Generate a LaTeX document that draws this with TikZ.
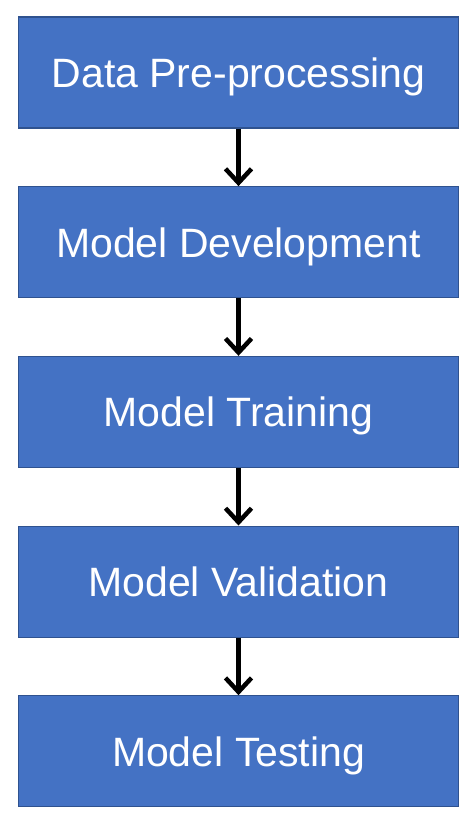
\documentclass[tikz,border=0pt]{standalone}
\usepackage{fontspec}
\setmainfont{Liberation Sans}
\usepackage{tikz}
\usetikzlibrary{
	arrows.meta,
	positioning
}
\definecolor{stageblue}{HTML}{4472C4}
\definecolor{stageedge}{HTML}{2F528F}

\begin{document}
\begin{tikzpicture}[
    x=1pt, y=1pt,
    node distance=57.5pt,
    stage/.style={rectangle, draw=stageedge, line width=1.2pt, fill=stageblue, text=white, minimum width=440pt, minimum height=111pt, inner sep=0pt, text height=30pt, text depth=0pt, font=\fontsize{41}{49}\selectfont},
    arrow/.style={line width=4.5pt,-{Straight Barb[length=14pt,width=26pt,line width=4.5pt]}}
]

% Canvas
\useasboundingbox (0,0) rectangle (474,-822);

% Pipeline stages
\node[stage] (prep) at (238.5,-72.5) {Data Pre-processing};
\node[stage, below=of prep] (dev) {Model Development};
\node[stage, below=of dev] (train) {Model Training};
\node[stage, below=of train] (valid) {Model Validation};
\node[stage, below=of valid] (test) {Model Testing};

% Arrows (main flow)
\draw[arrow] (prep) -- (dev);
\draw[arrow] (dev) -- (train);
\draw[arrow] (train) -- (valid);
\draw[arrow] (valid) -- (test);

\end{tikzpicture}
\end{document}
